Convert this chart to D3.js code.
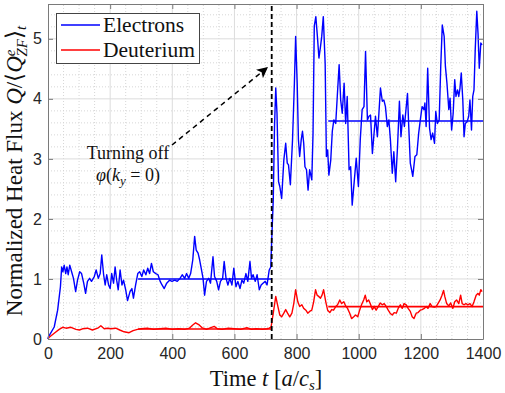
<!DOCTYPE html>
<meta charset="utf-8">
<style>
body { margin: 0; background: #fff; }
.tick text { font: 16px "Liberation Sans", Arial, sans-serif; fill: #262626; }
.serif { font-family: "Liberation Serif", "Times New Roman", serif; fill: #111; }
</style>
<svg width="505" height="393" id="svg"></svg>
<script src="https://d3js.org/d3.v7.min.js"></script>
<script>

// electrons, time (a/c_s) and normalized heat flux
var electronsT = [0, 1, 20, 31, 40, 44, 48, 52, 57, 61, 65, 70, 76, 82, 89, 95, 102, 108, 115, 121, 127, 134, 140, 149, 155, 162, 168, 173, 179, 184, 189, 195, 200, 205, 211, 216, 221, 226, 232, 238, 243, 250, 256, 264, 270, 275, 282, 289, 295, 302, 308, 315, 321, 327, 333, 339, 347, 354, 361, 367, 374, 382, 391, 399, 408, 416, 425, 432, 440, 446, 453, 459, 466, 472, 477, 483, 488, 493, 499, 504, 510, 517, 523, 531, 536, 543, 549, 555, 562, 567, 573, 579, 585, 592, 598, 605, 611, 618, 624, 630, 637, 643, 650, 655, 660, 667, 673, 680, 686, 692, 699, 705, 712, 717,
  720, 725, 729, 733, 737, 742, 746, 752, 759, 765, 770, 774, 780, 787, 793, 797, 802, 806, 810, 815, 819, 823, 827, 832, 837, 842, 849, 853, 857, 862, 867, 872, 877, 881, 886, 892, 896, 900, 904, 910, 915, 920, 926, 931, 937, 942, 947, 953, 958, 963, 969, 974, 979, 986, 992, 999, 1005, 1011, 1017, 1022, 1028, 1033, 1038, 1044, 1054, 1060, 1065, 1070, 1076, 1081, 1086, 1092, 1097, 1102, 1108, 1113, 1119, 1125, 1131, 1136, 1142, 1147, 1153, 1157, 1161, 1166, 1170, 1174, 1181, 1187, 1193, 1199, 1204, 1210, 1213, 1217, 1222, 1228, 1233, 1238, 1244, 1248, 1253, 1259, 1264, 1269, 1275, 1279, 1284, 1290, 1294, 1299, 1304, 1309, 1313, 1318, 1322, 1326, 1330, 1335, 1339, 1343, 1349, 1354, 1358, 1363, 1367, 1371, 1375, 1380, 1384, 1388, 1393, 1397];
var electronsQ = [0, 0.03, 0.2, 0.48, 0.87, 1.2, 1.12, 1.23, 1.09, 1.2, 1.07, 1.23, 1.12, 1.01, 0.79, 0.98, 1.12, 1.09, 0.93, 0.76, 0.96, 1.01, 0.96, 1.04, 1.15, 1.01, 1.09, 1.4, 1.07, 0.9, 1.07, 0.9, 0.84, 1.09, 0.93, 1.2, 0.98, 0.82, 1.15, 0.9, 0.98, 0.82, 0.64, 0.79, 0.84, 0.68, 0.9, 1.09, 1.12, 1.04, 1.15, 1.07, 1.18, 1.09, 1.26, 1.12, 1.09, 1.07, 0.96, 0.9, 0.84, 0.93, 0.98, 0.96, 0.98, 0.96, 1.01, 1.07, 1.01, 1.09, 1.01, 1.09, 1.32, 1.71, 1.48, 1.43, 1.32, 1.18, 1.01, 0.73, 0.96, 1.01, 0.93, 1.37, 1.04, 0.96, 0.82, 0.96, 1.01, 1.29, 1.01, 0.9, 1.01, 0.9, 1.18, 0.87, 0.96, 0.84, 0.98, 0.93, 1.09, 0.96, 1.29, 1.01, 1.07, 0.96, 1.07, 0.82, 0.9, 0.93, 0.96, 0.9, 1.15, 1.2,
  1.65, 2.32, 3.54, 4.18, 3.76, 2.62, 2.54, 2.34, 2.98, 3.26, 2.93, 2.9, 2.57, 3.32, 4.26, 5.04, 4.26, 3.32, 3.04, 3.32, 3.46, 3.26, 2.87, 2.82, 2.48, 2.82, 2.65, 3.43, 5.21, 5.37, 5.04, 4.68, 4.87, 5.04, 5.37, 4.59, 3.04, 3.15, 2.73, 2.98, 3.46, 3.65, 3.59, 4.04, 4.57, 3.98, 3.76, 4.26, 3.59, 4.04, 2.82, 2.87, 2.23, 2.65, 3.01, 2.54, 3.32, 3.82, 3.87, 4.79, 3.65, 3.71, 3.73, 3.09, 3.71, 3.37, 3.76, 4.18, 3.96, 3.98, 3.87, 3.54, 3.65, 3.32, 2.76, 3.12, 2.62, 3.21, 3.96, 3.37, 3.73, 3.54, 3.87, 4.09, 3.54, 2.93, 2.82, 2.71, 3.04, 3.07, 3.43, 3.68, 3.87, 3.82, 3.93, 3.54, 4.51, 3.51, 3.32, 3.43, 3.26, 3.79, 3.59, 3.65, 4.54, 5.23, 5.04, 4.54, 4.26, 3.82, 4.01, 3.48, 3.76, 4.32, 4.04, 4.15, 4.04, 4.18, 4.43, 3.98, 3.37, 3.59, 3.62, 3.71, 3.98, 3.48, 4.04, 4.15, 4.82, 5.46, 5.09, 4.51, 4.93, 4.9];

// deuterium
var deuteriumT = [0, 4, 20, 36, 47, 58, 74, 90, 101, 111, 127, 143, 160, 170, 181, 192, 202, 218, 231, 245, 261, 274, 288, 300, 320, 340, 360, 380, 400, 420, 440, 455, 465, 475, 485, 495, 510, 520, 535, 545, 560, 580, 600, 620, 640, 655, 670, 690, 705, 712, 718,
  725, 733, 740, 746, 752, 759, 765, 771, 778, 785, 791, 797, 804, 810, 817, 823, 830, 836, 842, 849, 855, 861, 866, 871, 877, 882, 887, 894, 900, 907, 913, 919, 926, 932, 939, 945, 952, 958, 964, 971, 977, 984, 990, 997, 1003, 1009, 1016, 1021, 1026, 1032, 1037, 1044, 1050, 1056, 1063, 1069, 1076, 1082, 1089, 1095, 1101, 1108, 1114, 1121, 1127, 1134, 1140, 1146, 1153, 1159, 1166, 1172, 1178, 1185, 1191, 1198, 1204, 1211, 1217, 1223, 1230, 1236, 1243, 1249, 1255, 1262, 1268, 1273, 1277, 1283, 1290, 1296, 1303, 1309, 1315, 1322, 1328, 1333, 1339, 1345, 1352, 1358, 1365, 1371, 1378, 1384, 1388, 1393, 1397];
var deuteriumQ = [0, 0.03, 0.095, 0.16, 0.195, 0.18, 0.195, 0.16, 0.15, 0.17, 0.18, 0.15, 0.18, 0.22, 0.17, 0.18, 0.17, 0.18, 0.15, 0.12, 0.105, 0.14, 0.16, 0.17, 0.18, 0.16, 0.17, 0.18, 0.16, 0.17, 0.16, 0.18, 0.23, 0.27, 0.24, 0.19, 0.16, 0.18, 0.21, 0.17, 0.16, 0.18, 0.17, 0.16, 0.19, 0.16, 0.17, 0.16, 0.17, 0.18, 0.2,
  0.43, 0.71, 0.54, 0.4, 0.37, 0.43, 0.49, 0.43, 0.37, 0.43, 0.59, 0.82, 0.62, 0.54, 0.57, 0.51, 0.48, 0.43, 0.46, 0.48, 0.62, 0.82, 0.73, 0.71, 0.68, 0.73, 0.82, 0.62, 0.48, 0.44, 0.49, 0.48, 0.54, 0.57, 0.65, 0.59, 0.62, 0.55, 0.51, 0.43, 0.34, 0.37, 0.4, 0.37, 0.48, 0.57, 0.65, 0.73, 0.62, 0.65, 0.59, 0.49, 0.54, 0.48, 0.54, 0.6, 0.57, 0.59, 0.54, 0.48, 0.43, 0.4, 0.44, 0.43, 0.51, 0.57, 0.51, 0.59, 0.57, 0.51, 0.46, 0.37, 0.34, 0.43, 0.44, 0.48, 0.49, 0.51, 0.54, 0.51, 0.59, 0.54, 0.53, 0.54, 0.59, 0.65, 0.73, 0.81, 0.71, 0.59, 0.55, 0.6, 0.51, 0.62, 0.65, 0.59, 0.73, 0.59, 0.57, 0.59, 0.57, 0.59, 0.54, 0.62, 0.73, 0.76, 0.73, 0.82, 0.79];

// time averages: [start, end, value]
var electronsMean = [[290, 720, 1.0], [902, 1400, 3.63]];
var deuteriumMean = [[290, 720, 0.167], [902, 1400, 0.54]];

var switchOffTime = 720;
var xTicks = [0, 200, 400, 600, 800, 1000, 1200, 1400];
var yTicks = [0, 1, 2, 3, 4, 5];
var seriesNames = ["Electrons", "Deuterium"];
var seriesColors = ["#0000ff", "#ff0000"];

var svg = d3.select("svg");

var x = d3.scaleLinear().domain([0, 1400]).range([48, 483]);
var y = d3.scaleLinear().domain([0, 5.58]).range([339, 4]);

// grid
var grid = svg.append("g");
grid.selectAll(".xminor")
  .data(d3.range(50, 1400, 50).filter(function(d) { return d % 200 != 0; }))
  .enter().append("line")
    .attr("x1", function(d) { return x(d); }).attr("x2", function(d) { return x(d); })
    .attr("y1", y(0)).attr("y2", y(5.58))
    .attr("stroke", "#d6d6d6").attr("stroke-dasharray", "1,2");
grid.selectAll(".yminor")
  .data(d3.range(1, 28).map(function(d) { return d * 0.2; }).filter(function(d) { return Math.abs(d - Math.round(d)) > 0.01; }))
  .enter().append("line")
    .attr("x1", x(0)).attr("x2", x(1400))
    .attr("y1", function(d) { return y(d); }).attr("y2", function(d) { return y(d); })
    .attr("stroke", "#d6d6d6").attr("stroke-dasharray", "1,2");
grid.selectAll(".xmajor")
  .data(xTicks.slice(1, -1))
  .enter().append("line")
    .attr("x1", function(d) { return x(d); }).attr("x2", function(d) { return x(d); })
    .attr("y1", y(0)).attr("y2", y(5.58))
    .attr("stroke", "#dcdcdc");
grid.selectAll(".ymajor")
  .data(yTicks.slice(1))
  .enter().append("line")
    .attr("x1", x(0)).attr("x2", x(1400))
    .attr("y1", function(d) { return y(d); }).attr("y2", function(d) { return y(d); })
    .attr("stroke", "#dcdcdc");

// series
var line = d3.line()
  .x(function(d) { return x(d[0]); })
  .y(function(d) { return y(d[1]); });

var series = [d3.zip(electronsT, electronsQ), d3.zip(deuteriumT, deuteriumQ)];
var means = [electronsMean, deuteriumMean];

series.forEach(function(s, i) {
  svg.append("path")
    .datum(s)
    .attr("fill", "none")
    .attr("stroke", seriesColors[i])
    .attr("stroke-width", 1.4)
    .attr("stroke-linejoin", "round")
    .attr("d", line);
  svg.selectAll(null)
    .data(means[i])
    .enter().append("line")
      .attr("x1", function(d) { return x(d[0]); })
      .attr("x2", function(d) { return x(d[1]); })
      .attr("y1", function(d) { return y(d[2]); })
      .attr("y2", function(d) { return y(d[2]); })
      .attr("stroke", seriesColors[i])
      .attr("stroke-width", 1.6);
});

// switch-off marker
svg.append("line")
  .attr("x1", x(switchOffTime)).attr("x2", x(switchOffTime))
  .attr("y1", y(0)).attr("y2", y(5.58))
  .attr("stroke", "#000").attr("stroke-width", 1.8)
  .attr("stroke-dasharray", "5,3");

// axes, ticks inside like matlab
var axisColor = "#7a7a7a";
var fmt = d3.format("d");
var xAxis = svg.append("g").attr("transform", "translate(0," + y(0) + ")")
  .call(d3.axisBottom(x).tickValues(xTicks).tickFormat(fmt).tickSize(-5).tickSizeOuter(0).tickPadding(9));
var yAxis = svg.append("g").attr("transform", "translate(" + x(0) + ",0)")
  .call(d3.axisLeft(y).tickValues(yTicks).tickFormat(fmt).tickSize(-5).tickSizeOuter(0).tickPadding(6));
var xTop = svg.append("g").attr("transform", "translate(0," + y(5.58) + ")")
  .call(d3.axisTop(x).tickValues(xTicks).tickSize(-5).tickSizeOuter(0).tickFormat(""));
var yRight = svg.append("g").attr("transform", "translate(" + x(1400) + ",0)")
  .call(d3.axisRight(y).tickValues(yTicks).tickSize(-5).tickSizeOuter(0).tickFormat(""));
[xAxis, yAxis, xTop, yRight].forEach(function(a) {
  a.select(".domain").attr("stroke", axisColor);
  a.selectAll(".tick line").attr("stroke", axisColor);
});

// legend
var legend = svg.append("g");
legend.append("rect")
  .attr("x", 56.5).attr("y", 13.5).attr("width", 143).attr("height", 50)
  .attr("fill", "#fff").attr("stroke", "#444");
seriesNames.forEach(function(name, i) {
  legend.append("line")
    .attr("x1", 61).attr("x2", 100)
    .attr("y1", 25 + i * 25).attr("y2", 25 + i * 25)
    .attr("stroke", seriesColors[i]).attr("stroke-width", 1.4);
  legend.append("text")
    .attr("class", "serif")
    .attr("x", 103).attr("y", 32 + i * 25)
    .style("font-size", "21.5px")
    .text(name);
});

// annotation
var defs = svg.append("defs");
defs.append("marker")
  .attr("id", "head")
  .attr("viewBox", "0 0 10 10")
  .attr("refX", 10).attr("refY", 5)
  .attr("markerWidth", 11).attr("markerHeight", 11)
  .attr("markerUnits", "userSpaceOnUse")
  .attr("orient", "auto")
  .append("path").attr("d", "M0,0 L10,5 L0,10 L2.5,5 Z").attr("fill", "#000");

svg.append("line")
  .attr("x1", 172).attr("y1", 145).attr("x2", 268).attr("y2", 67)
  .attr("stroke", "#000").attr("stroke-width", 1.5)
  .attr("stroke-dasharray", "5,4")
  .attr("marker-end", "url(#head)");

var note = svg.append("text").attr("class", "serif")
  .attr("text-anchor", "middle").style("font-size", "18px");
note.append("tspan").attr("x", 128).attr("y", 159).text("Turning off");
var l2 = note.append("tspan").attr("x", 128).attr("y", 181);
l2.append("tspan").style("font-style", "italic").text("φ");
l2.append("tspan").text("(");
l2.append("tspan").style("font-style", "italic").text("k");
l2.append("tspan").style("font-style", "italic").style("font-size", "13px").attr("dy", 4).text("y");
l2.append("tspan").attr("dy", -4).text(" = 0)");

// axis titles
var xt = svg.append("text").attr("class", "serif")
  .attr("x", 266).attr("y", 385.5).attr("text-anchor", "middle")
  .style("font-size", "22.5px");
xt.append("tspan").text("Time ");
xt.append("tspan").style("font-style", "italic").text("t");
xt.append("tspan").text(" [");
xt.append("tspan").style("font-style", "italic").text("a");
xt.append("tspan").text("/");
xt.append("tspan").style("font-style", "italic").text("c");
xt.append("tspan").style("font-style", "italic").style("font-size", "15px").attr("dy", 4).text("s");
xt.append("tspan").attr("dy", -4).text("]");

var yt = svg.append("text").attr("class", "serif")
  .attr("transform", "translate(22,171) rotate(-90)")
  .attr("text-anchor", "middle")
  .style("font-size", "23px");
yt.append("tspan").text("Normalized Heat Flux ");
yt.append("tspan").style("font-style", "italic").text("Q");
yt.append("tspan").text("/\u27E8");
yt.append("tspan").style("font-style", "italic").text("Q");
yt.append("tspan").style("font-style", "italic").style("font-size", "15px").attr("dy", -7).text("e");
yt.append("tspan").style("font-style", "italic").style("font-size", "15px").attr("dx", -7).attr("dy", 12).text("ZF");
yt.append("tspan").attr("dy", -5).text("\u27E9");
yt.append("tspan").style("font-style", "italic").style("font-size", "15px").attr("dy", 4).text("t");

</script>
